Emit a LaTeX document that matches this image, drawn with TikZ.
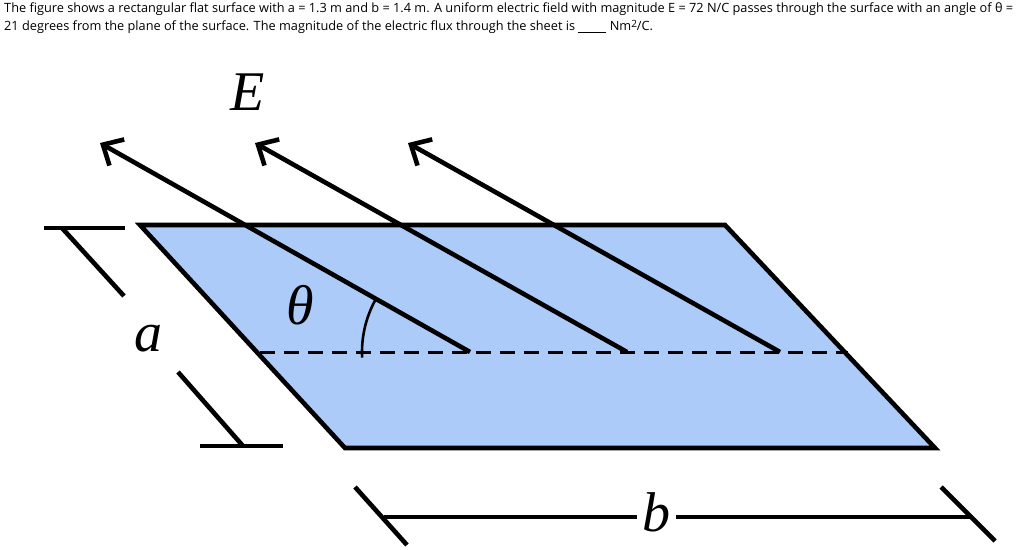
\documentclass[tikz,border=0pt]{standalone}
\usepackage{fontspec}
\newfontfamily\osans{Open Sans}
\newfontfamily\lserif{Liberation Serif}
\usetikzlibrary{arrows.meta,calc}
\definecolor{sheet}{HTML}{ADCBF9}
\tikzset{thick line/.style={line width=4.6pt},
 earrow/.style={thick line,-{Straight Barb[length=16pt,width=30pt,line width=4.6pt]}},
 lbl/.style={font=\lserif\fontsize{56}{56}\selectfont\itshape}}
\begin{document}
\begin{tikzpicture}[x=1pt,y=-1pt]
\useasboundingbox (0,0) rectangle (1024,549);
\node[anchor=north west,inner sep=0,align=left,font=\osans\fontsize{12.75}{18}\selectfont] (txt) at (4,2.5)
{The figure shows a rectangular flat surface with a = 1.3 m and b = 1.4 m. A uniform electric field with magnitude E = 72 N/C passes through the surface with an angle of θ =\\
21 degrees from the plane of the surface. The magnitude of the electric flux through the sheet is \underline{\hspace{2.2em}} Nm\raisebox{0.5ex}{\fontsize{10}{10}\selectfont 2}/C.};
\path[fill=sheet,draw=black,thick line,line join=miter] (140,225) coordinate (p1) -- (725,225) coordinate (p2) -- (935,448) coordinate (p3) -- (345,448) coordinate (p4) -- cycle;
\coordinate (d1) at (260,352); \coordinate (d2) at (848,352);
\draw[line width=3pt,dash pattern=on 15pt off 9pt] (d1) -- (d2);
\coordinate (s1) at (470,352); \coordinate (t1) at (100,143);
\coordinate (s2) at (627,352); \coordinate (t2) at (255,143);
\coordinate (s3) at (780,352); \coordinate (t3) at (408,143);
\draw[earrow] (s1) -- (t1);
\draw[earrow] (s2) -- (t2);
\draw[earrow] (s3) -- (t3);
\draw[line width=2.6pt] ($(s1)+(209.5:108)$) arc[start angle=209.5,end angle=177,radius=108];
\node[lbl] (E) at (248,92) {E};
\node[lbl] (th) at (300,305) {θ};
\node[lbl] (a) at (148,339) {a};
\node[lbl] (b) at (656,512) {b};
% a dimension
\coordinate (at1) at (44,228); \coordinate (at2) at (125,228);
\coordinate (ab1) at (200,446); \coordinate (ab2) at (283,446);
\draw[thick line] (at1) -- (at2);
\draw[thick line] (ab1) -- (ab2);
\draw[thick line] (62,228) coordinate (al1) -- (124,296) coordinate (al2);
\draw[thick line] (178,372) coordinate (al3) -- (243,446) coordinate (al4);
% b dimension
\coordinate (bl1) at (384,517); \coordinate (bl2) at (637,517);
\coordinate (bl3) at (676,517); \coordinate (bl4) at (970,517);
\draw[thick line] (bl1) -- (bl2);
\draw[thick line] (bl3) -- (bl4);
\draw[thick line] (355,487) coordinate (bt1) -- (407,545) coordinate (bt2);
\draw[thick line] (941,487) coordinate (bt3) -- (995,541) coordinate (bt4);
\end{tikzpicture}
\end{document}
